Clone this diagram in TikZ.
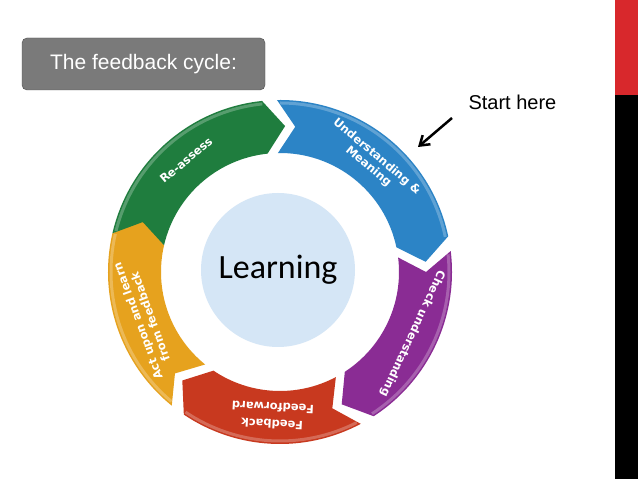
\documentclass[tikz,border=0pt]{standalone}
\usepackage{fontspec}
\setmainfont{Liberation Sans}
\newfontfamily\segfont{DejaVu Sans}
\newfontfamily\learnfont{Carlito}
\usetikzlibrary{arrows.meta}
\definecolor{cblue}{HTML}{2C84C6}
\definecolor{cpurple}{HTML}{8A2C94}
\definecolor{cred}{HTML}{C8391F}
\definecolor{corange}{HTML}{E6A21E}
\definecolor{cgreen}{HTML}{1F7D3E}
\definecolor{barred}{HTML}{D8282C}
\definecolor{cback}{HTML}{D5E6F6}
\newcommand{\segfnt}{\segfont\bfseries\fontsize{11.5}{13}\selectfont}
\tikzset{seglabel/.style={text=white,font=\segfnt,align=center}}
\newcommand{\mkseg}[4]{% start angle, end angle, colour, name
  \fill[#3] (#1:172) arc[start angle=#1,end angle=#2,radius=172] -- (#2-8:146) -- (#2:119)
    arc[start angle=#2,end angle=#1,radius=119] -- (#1-7:146) -- cycle;
  \draw[white,opacity=0.25,line width=3pt] (#1-1:169) arc[start angle=#1-1,end angle=#2,radius=169];
}
\begin{document}
\begin{tikzpicture}[x=1pt,y=1pt]
\useasboundingbox (0,0) rectangle (638,479);
\fill[white] (0,0) rectangle (638,479);
\fill[black] (615,0) rectangle (638,384);
\fill[barred] (615,384) rectangle (638,479);
\node[draw=black!70,fill=black!52,rounded corners=5pt,minimum width=243pt,minimum height=52pt,text=white,font=\fontsize{21}{24}\selectfont] (title) at (143.5,415) {The feedback cycle:};
\node[font=\fontsize{20}{22}\selectfont,anchor=west] (start) at (465,377) {Start here};
\coordinate (sa) at (452,361);
\coordinate (sb) at (418,332);
\draw[line width=2.5pt,-{Straight Barb[length=9pt,width=12pt]}] (sa) -- (sb);
\begin{scope}[shift={(280,207)}]
\mkseg{91}{12}{cblue}{b}
\mkseg{7}{-57}{cpurple}{p}
\mkseg{-62}{-124}{cred}{r}
\mkseg{-129}{-193}{corange}{o}
\mkseg{167}{96}{cgreen}{g}
\node[seglabel,rotate=-40] (lb) at (50:144) {Understanding \&\\Meaning};
\node[seglabel,rotate=-115] (lp) at (-25:146) {Check understanding};
\node[seglabel,rotate=-183] (lr) at (-93:144) {Feedback\\[4pt]Feedforward};
\node[seglabel,rotate=-250] (lo) at (-161:144) {Act upon and learn\\from feedback};
\node[seglabel,rotate=40] (lg) at (130:146) {Re-assess};
\end{scope}
\node[circle,fill=cback,minimum size=154pt] (c) at (278,209) {};
\node[font=\learnfont\fontsize{34}{38}\selectfont] (learn) at (c) {Learning};
\end{tikzpicture}
\end{document}
